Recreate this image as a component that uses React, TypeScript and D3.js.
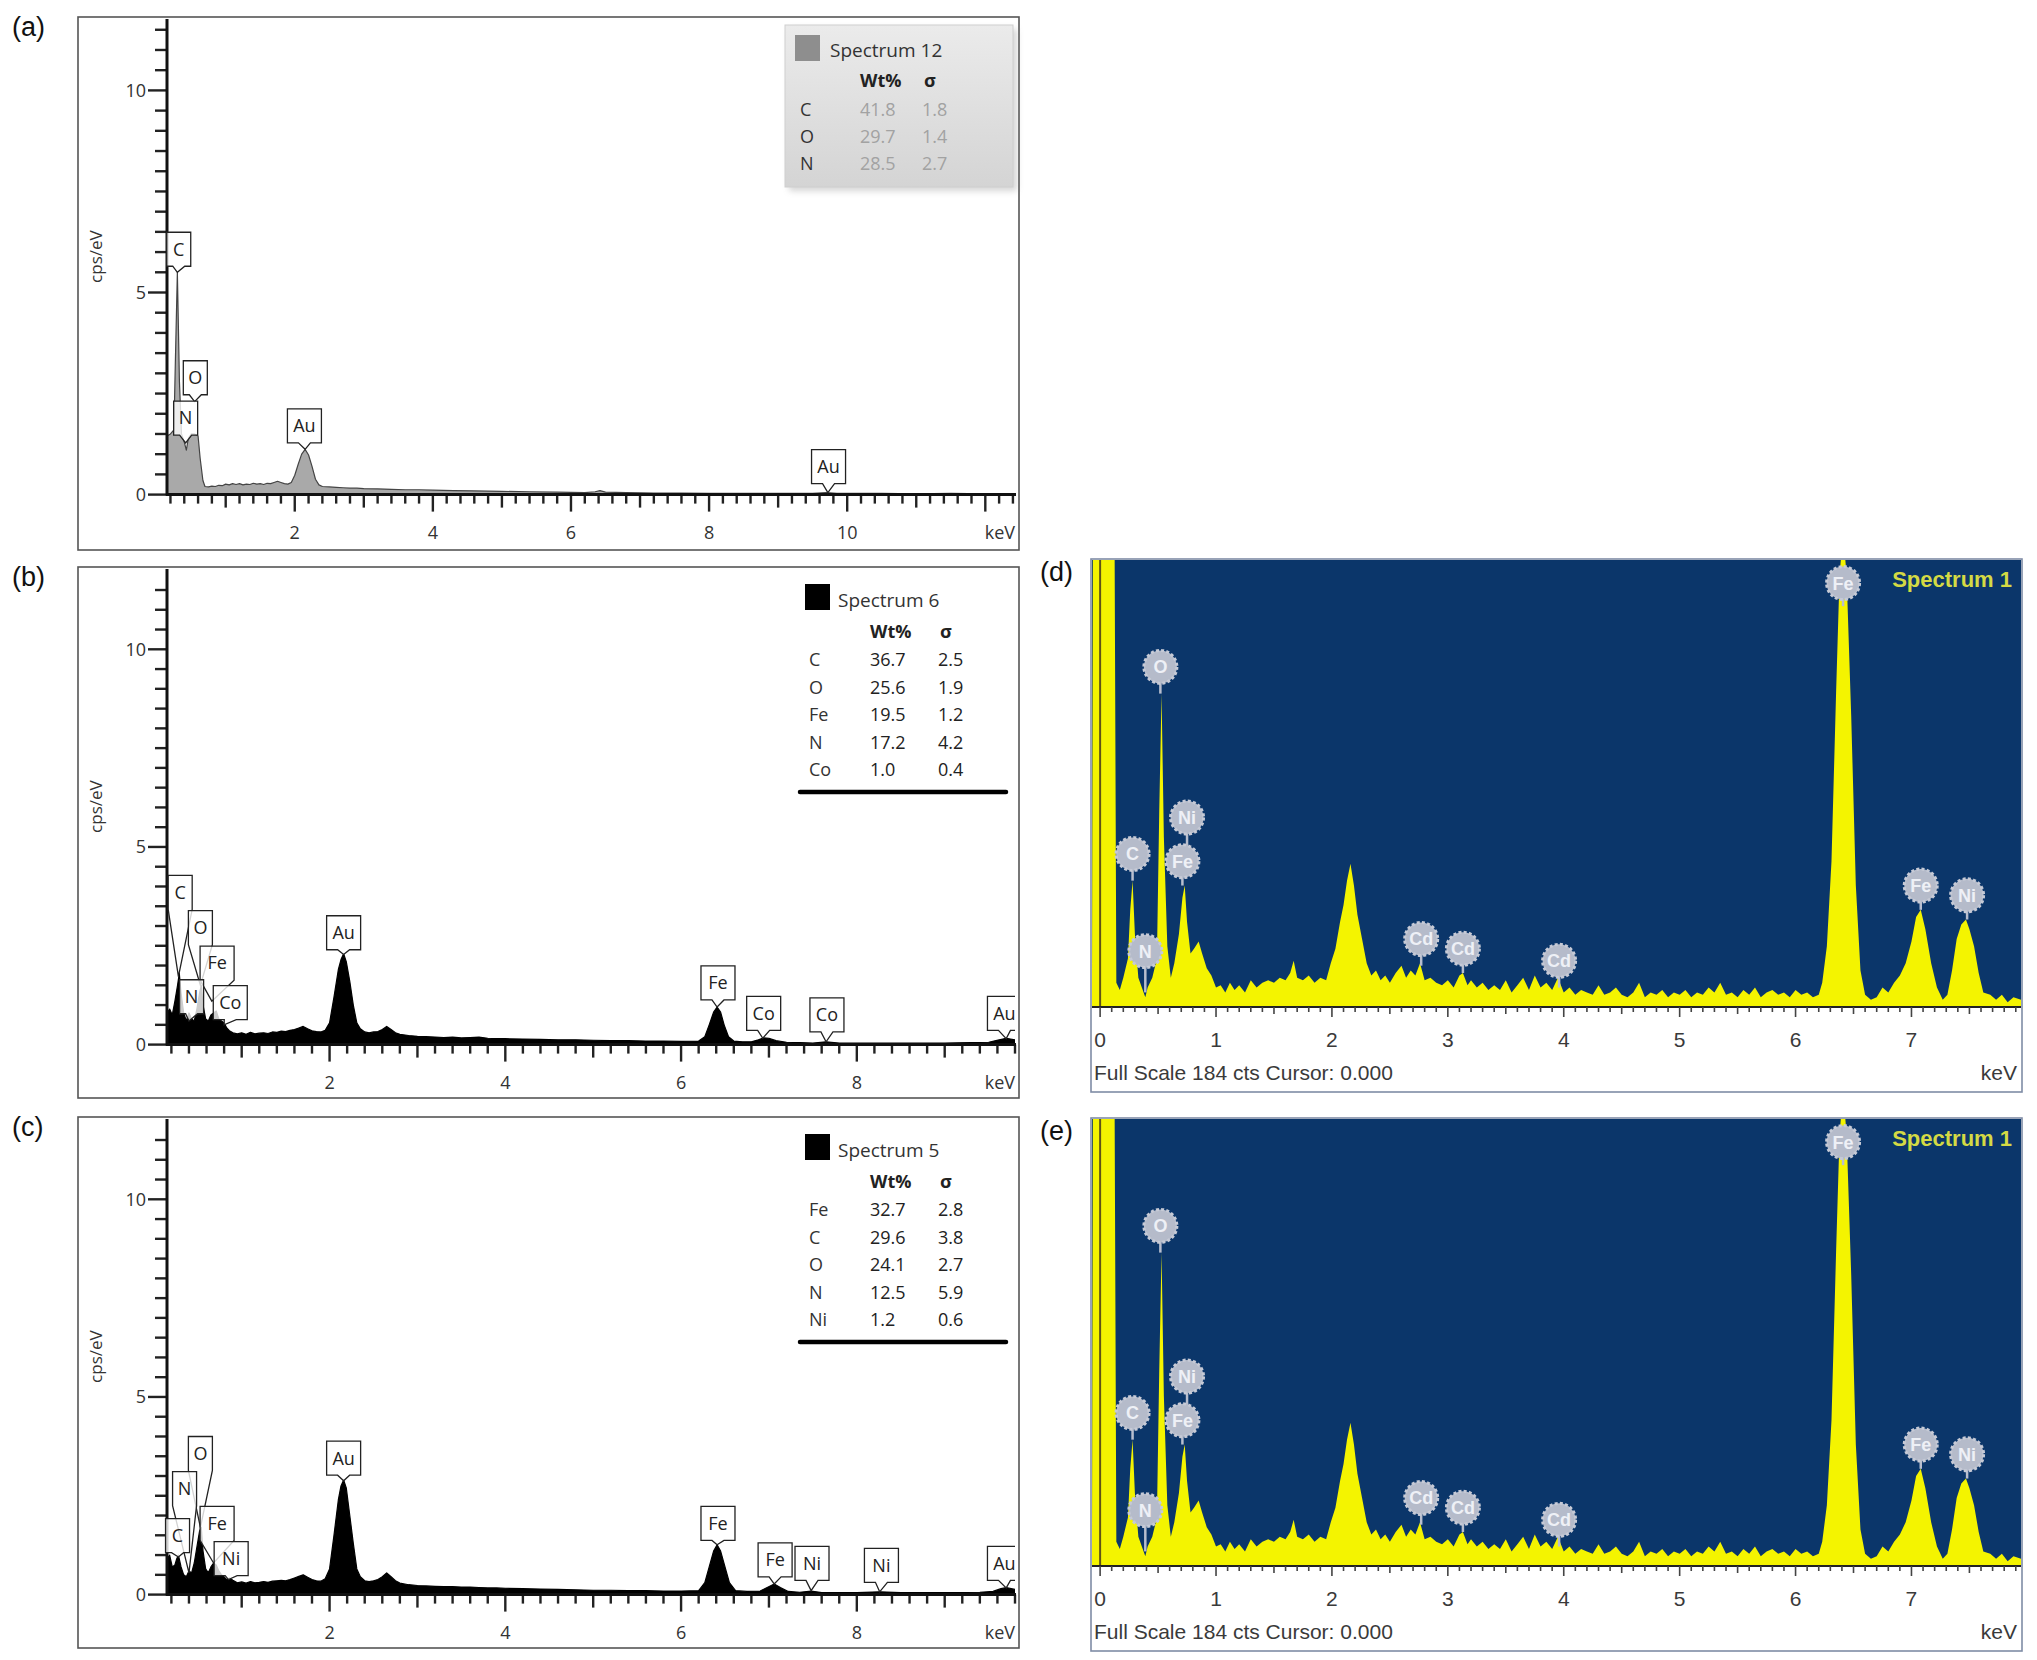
import React, { useEffect, useRef } from 'react'
import * as d3 from 'd3'

const FONT = '"Open Sans", "Noto Sans", sans-serif'
const ARIAL = '"Liberation Sans", Arial, sans-serif'

// ---------- (a) Spectrum 12  (keV, cps/eV) ----------
const specA: [number, number][] = [
  [0.15, 1.45], [0.2, 1.5], [0.25, 1.6], [0.27, 3.2], [0.3, 5.5], [0.33, 2.8], [0.36, 1.5], [0.4, 1.3],
  [0.43, 1.1], [0.46, 1.4], [0.5, 1.5], [0.55, 1.5], [0.6, 1.45], [0.63, 0.9], [0.67, 0.35], [0.7, 0.2],
  [0.75, 0.19], [0.8, 0.21], [0.85, 0.2], [0.9, 0.23], [0.95, 0.22], [1.0, 0.26], [1.05, 0.24], [1.1, 0.27],
  [1.15, 0.25], [1.2, 0.27], [1.25, 0.24], [1.3, 0.26], [1.35, 0.25], [1.4, 0.28], [1.45, 0.26], [1.5, 0.27],
  [1.55, 0.25], [1.6, 0.28], [1.65, 0.27], [1.7, 0.3], [1.75, 0.33], [1.8, 0.3], [1.85, 0.27], [1.9, 0.26],
  [1.95, 0.3], [2.0, 0.48], [2.05, 0.75], [2.1, 1.0], [2.15, 1.12], [2.2, 0.98], [2.25, 0.7], [2.3, 0.38],
  [2.35, 0.24], [2.4, 0.2], [2.5, 0.19], [2.6, 0.18], [2.7, 0.17], [2.8, 0.16], [2.9, 0.16], [3.0, 0.15],
  [3.2, 0.14], [3.4, 0.13], [3.6, 0.12], [3.8, 0.12], [4.0, 0.11], [4.3, 0.1], [4.6, 0.09], [5.0, 0.08],
  [5.4, 0.07], [5.8, 0.06], [6.2, 0.05], [6.35, 0.07], [6.42, 0.1], [6.5, 0.06], [6.8, 0.05], [7.2, 0.04],
  [7.6, 0.04], [8.0, 0.03], [8.5, 0.03], [9.0, 0.03], [9.5, 0.03], [9.7, 0.05], [9.85, 0.03], [10.5, 0.03],
  [11, 0.02], [11.5, 0.03], [12, 0.02], [12.43, 0.02],
]
// element tags: peak (px, py) and box (bx, by = box bottom)
const tagsA = [
  { el: 'C', px: 0.3, py: 5.5, bx: 0.32, by: 5.65 },
  { el: 'O', px: 0.55, py: 2.3, bx: 0.56, by: 2.47 },
  { el: 'N', px: 0.42, py: 1.28, bx: 0.42, by: 1.47 },
  { el: 'Au', px: 2.15, py: 1.12, bx: 2.14, by: 1.28 },
  { el: 'Au', px: 9.72, py: 0.05, bx: 9.73, by: 0.27 },
]
const rowsA = [['C', '41.8', '1.8'], ['O', '29.7', '1.4'], ['N', '28.5', '2.7']]

// ---------- (b) Spectrum 6 ----------
const specB: [number, number][] = [
  [0.15, 0.8], [0.18, 0.9], [0.21, 0.75], [0.24, 1.1], [0.27, 1.5], [0.29, 1.8], [0.31, 1.3], [0.34, 0.8],
  [0.37, 0.6], [0.4, 0.8], [0.43, 0.65], [0.46, 0.6], [0.49, 0.9], [0.52, 1.3], [0.54, 1.5], [0.56, 1.0],
  [0.59, 0.65], [0.62, 0.6], [0.65, 0.75], [0.68, 0.8], [0.71, 0.85], [0.74, 0.65], [0.77, 0.6], [0.8, 0.55],
  [0.83, 0.42], [0.86, 0.35], [0.9, 0.3], [0.95, 0.27], [1.0, 0.3], [1.05, 0.26], [1.1, 0.31], [1.15, 0.27],
  [1.2, 0.29], [1.25, 0.3], [1.3, 0.28], [1.35, 0.32], [1.4, 0.31], [1.45, 0.34], [1.5, 0.33], [1.55, 0.36],
  [1.6, 0.38], [1.65, 0.42], [1.7, 0.46], [1.75, 0.4], [1.8, 0.35], [1.85, 0.33], [1.9, 0.32], [1.95, 0.36],
  [2.0, 0.55], [2.05, 1.2], [2.1, 1.9], [2.13, 2.15], [2.16, 2.3], [2.19, 2.1], [2.23, 1.6], [2.27, 1.0],
  [2.31, 0.55], [2.35, 0.4], [2.4, 0.32], [2.45, 0.3], [2.5, 0.32], [2.55, 0.33], [2.6, 0.38], [2.65, 0.46],
  [2.7, 0.38], [2.75, 0.3], [2.8, 0.26], [2.9, 0.23], [3.0, 0.21], [3.1, 0.2], [3.2, 0.19], [3.3, 0.18],
  [3.4, 0.19], [3.5, 0.17], [3.6, 0.18], [3.7, 0.19], [3.8, 0.16], [3.9, 0.15], [4.0, 0.15], [4.2, 0.14],
  [4.4, 0.13], [4.6, 0.12], [4.8, 0.12], [5.0, 0.11], [5.2, 0.1], [5.4, 0.1], [5.6, 0.09], [5.8, 0.09],
  [6.0, 0.08], [6.2, 0.09], [6.27, 0.2], [6.32, 0.5], [6.37, 0.82], [6.41, 0.95], [6.45, 0.82], [6.49, 0.5],
  [6.54, 0.2], [6.6, 0.09], [6.7, 0.07], [6.8, 0.07], [6.88, 0.12], [6.94, 0.17], [7.0, 0.16], [7.08, 0.1],
  [7.2, 0.06], [7.35, 0.05], [7.5, 0.04], [7.65, 0.07], [7.8, 0.04], [8.0, 0.04], [8.3, 0.04], [8.6, 0.04],
  [9.0, 0.04], [9.3, 0.05], [9.5, 0.06], [9.62, 0.12], [9.7, 0.16], [9.8, 0.12],
]
const tagsB = [
  { el: 'C', px: 0.28, py: 1.72, bx: 0.3, by: 3.42 },
  { el: 'O', px: 0.53, py: 1.5, bx: 0.53, by: 2.53 },
  { el: 'Fe', px: 0.66, py: 1.1, bx: 0.72, by: 1.63 },
  { el: 'N', px: 0.4, py: 0.6, bx: 0.43, by: 0.78 },
  { el: 'Co', px: 0.8, py: 0.5, bx: 0.87, by: 0.63 },
  { el: 'Au', px: 2.16, py: 2.28, bx: 2.16, by: 2.4 },
  { el: 'Fe', px: 6.41, py: 0.95, bx: 6.42, by: 1.13 },
  { el: 'Co', px: 6.93, py: 0.16, bx: 6.94, by: 0.36 },
  { el: 'Co', px: 7.65, py: 0.07, bx: 7.66, by: 0.32 },
  { el: 'Au', px: 9.7, py: 0.15, bx: 9.68, by: 0.36 },
]
const rowsB = [['C', '36.7', '2.5'], ['O', '25.6', '1.9'], ['Fe', '19.5', '1.2'], ['N', '17.2', '4.2'], ['Co', '1.0', '0.4']]

// ---------- (c) Spectrum 5 ----------
const specC: [number, number][] = [
  [0.15, 0.9], [0.18, 1.0], [0.21, 0.7], [0.24, 0.75], [0.26, 0.9], [0.28, 1.0], [0.31, 0.7], [0.34, 0.5],
  [0.37, 0.45], [0.4, 0.6], [0.43, 0.55], [0.46, 0.8], [0.49, 1.2], [0.52, 1.6], [0.54, 1.7], [0.56, 1.1],
  [0.59, 0.65], [0.62, 0.55], [0.65, 0.7], [0.68, 0.8], [0.71, 0.75], [0.74, 0.6], [0.77, 0.5], [0.8, 0.45],
  [0.83, 0.38], [0.86, 0.42], [0.9, 0.36], [0.95, 0.3], [1.0, 0.32], [1.05, 0.29], [1.1, 0.33], [1.15, 0.3],
  [1.2, 0.31], [1.25, 0.33], [1.3, 0.31], [1.35, 0.34], [1.4, 0.35], [1.45, 0.36], [1.5, 0.35], [1.55, 0.38],
  [1.6, 0.42], [1.65, 0.46], [1.7, 0.5], [1.75, 0.44], [1.8, 0.38], [1.85, 0.35], [1.9, 0.34], [1.95, 0.4],
  [2.0, 0.65], [2.05, 1.5], [2.1, 2.4], [2.13, 2.75], [2.16, 2.9], [2.19, 2.7], [2.23, 2.0], [2.27, 1.3],
  [2.31, 0.65], [2.35, 0.45], [2.4, 0.35], [2.45, 0.33], [2.5, 0.35], [2.55, 0.38], [2.6, 0.45], [2.65, 0.55],
  [2.7, 0.45], [2.75, 0.35], [2.8, 0.29], [2.9, 0.25], [3.0, 0.23], [3.1, 0.22], [3.2, 0.21], [3.3, 0.2],
  [3.4, 0.2], [3.5, 0.19], [3.6, 0.19], [3.7, 0.18], [3.8, 0.17], [3.9, 0.17], [4.0, 0.16], [4.2, 0.15],
  [4.4, 0.14], [4.6, 0.13], [4.8, 0.12], [5.0, 0.11], [5.2, 0.11], [5.4, 0.1], [5.6, 0.1], [5.8, 0.09],
  [6.0, 0.09], [6.2, 0.1], [6.27, 0.3], [6.32, 0.7], [6.37, 1.1], [6.41, 1.26], [6.45, 1.1], [6.5, 0.7],
  [6.55, 0.3], [6.62, 0.1], [6.75, 0.08], [6.9, 0.09], [6.98, 0.18], [7.06, 0.27], [7.13, 0.18], [7.22, 0.08],
  [7.35, 0.06], [7.48, 0.09], [7.6, 0.05], [7.8, 0.05], [8.0, 0.05], [8.26, 0.07], [8.5, 0.05], [8.8, 0.05],
  [9.1, 0.05], [9.4, 0.06], [9.55, 0.08], [9.64, 0.15], [9.7, 0.18], [9.8, 0.13],
]
const tagsC = [
  { el: 'O', px: 0.53, py: 1.7, bx: 0.53, by: 3.14 },
  { el: 'N', px: 0.4, py: 0.55, bx: 0.35, by: 2.25 },
  { el: 'C', px: 0.28, py: 0.95, bx: 0.27, by: 1.06 },
  { el: 'Fe', px: 0.68, py: 0.8, bx: 0.72, by: 1.37 },
  { el: 'Ni', px: 0.85, py: 0.38, bx: 0.88, by: 0.48 },
  { el: 'Au', px: 2.16, py: 2.88, bx: 2.16, by: 3.02 },
  { el: 'Fe', px: 6.41, py: 1.26, bx: 6.42, by: 1.37 },
  { el: 'Fe', px: 7.06, py: 0.27, bx: 7.07, by: 0.45 },
  { el: 'Ni', px: 7.48, py: 0.1, bx: 7.49, by: 0.36 },
  { el: 'Ni', px: 8.26, py: 0.07, bx: 8.28, by: 0.31 },
  { el: 'Au', px: 9.7, py: 0.17, bx: 9.68, by: 0.36 },
]
const rowsC = [['Fe', '32.7', '2.8'], ['C', '29.6', '3.8'], ['O', '24.1', '2.7'], ['N', '12.5', '5.9'], ['Ni', '1.2', '0.6']]

// ---------- (d)/(e) Spectrum 1  (keV, counts) ----------
const spectrum1: [number, number][] = [
  [-0.07, 12], [-0.06, 250], [0.12, 250], [0.14, 10], [0.17, 7], [0.2, 12], [0.24, 20], [0.26, 40],
  [0.28, 52], [0.3, 30], [0.33, 12], [0.36, 8], [0.39, 4], [0.41, 8], [0.45, 12], [0.49, 20],
  [0.51, 80], [0.53, 129], [0.55, 70], [0.58, 25], [0.61, 12], [0.64, 18], [0.68, 30], [0.71, 45],
  [0.73, 50], [0.75, 35], [0.78, 22], [0.81, 24], [0.85, 27], [0.88, 22], [0.92, 16], [0.96, 13],
  [1.0, 8], [1.04, 9], [1.08, 6], [1.12, 10], [1.16, 7], [1.2, 9], [1.25, 6], [1.3, 11],
  [1.35, 8], [1.4, 10], [1.45, 11], [1.5, 10], [1.55, 12], [1.6, 11], [1.64, 14], [1.67, 19],
  [1.7, 12], [1.75, 11], [1.8, 13], [1.85, 10], [1.9, 12], [1.95, 11], [1.99, 18], [2.03, 24],
  [2.07, 35], [2.1, 42], [2.13, 52], [2.16, 59], [2.19, 50], [2.22, 38], [2.26, 28], [2.3, 18],
  [2.34, 13], [2.38, 15], [2.42, 11], [2.46, 13], [2.5, 10], [2.55, 14], [2.6, 17], [2.64, 12],
  [2.68, 15], [2.72, 13], [2.76, 18], [2.8, 11], [2.85, 12], [2.9, 10], [2.95, 9], [3.0, 11],
  [3.05, 8], [3.1, 13], [3.13, 14], [3.17, 9], [3.2, 11], [3.25, 8], [3.3, 10], [3.35, 7],
  [3.4, 9], [3.45, 7], [3.5, 11], [3.55, 6], [3.6, 9], [3.65, 12], [3.7, 7], [3.75, 13],
  [3.8, 8], [3.85, 10], [3.9, 7], [3.95, 12], [4.0, 6], [4.05, 8], [4.1, 5], [4.15, 7],
  [4.2, 6], [4.25, 5], [4.3, 9], [4.35, 5], [4.4, 6], [4.45, 8], [4.5, 5], [4.55, 4],
  [4.6, 6], [4.65, 10], [4.7, 4], [4.75, 6], [4.8, 5], [4.85, 7], [4.9, 4], [4.95, 6],
  [5.0, 5], [5.05, 7], [5.1, 4], [5.15, 6], [5.2, 5], [5.25, 8], [5.3, 6], [5.35, 10],
  [5.4, 5], [5.45, 6], [5.5, 4], [5.55, 7], [5.6, 5], [5.65, 8], [5.7, 4], [5.75, 6],
  [5.8, 7], [5.85, 5], [5.9, 6], [5.95, 4], [6.0, 7], [6.05, 5], [6.1, 6], [6.15, 4],
  [6.2, 5], [6.23, 10], [6.27, 25], [6.31, 60], [6.35, 130], [6.38, 178], [6.41, 195], [6.44, 178],
  [6.48, 120], [6.52, 50], [6.56, 15], [6.6, 5], [6.65, 3], [6.7, 4], [6.75, 8], [6.8, 6],
  [6.85, 10], [6.9, 13], [6.95, 18], [7.0, 27], [7.04, 37], [7.08, 40], [7.12, 32], [7.17, 18],
  [7.22, 8], [7.27, 3], [7.31, 5], [7.35, 15], [7.39, 28], [7.43, 34], [7.47, 36], [7.5, 32],
  [7.54, 25], [7.58, 14], [7.62, 6], [7.68, 5], [7.73, 3], [7.78, 5], [7.83, 2], [7.88, 4], [7.945, 3],
]
// badge centre (kev, cts) and the count where its stem ends
const badges1 = [
  { el: 'O', kev: 0.52, cts: 140, end: 129 },
  { el: 'Ni', kev: 0.75, cts: 78, end: 62 },
  { el: 'C', kev: 0.28, cts: 63, end: 52 },
  { el: 'Fe', kev: 0.71, cts: 60, end: 50 },
  { el: 'N', kev: 0.39, cts: 23, end: 6 },
  { el: 'Cd', kev: 2.77, cts: 28, end: 17 },
  { el: 'Cd', kev: 3.13, cts: 24, end: 14 },
  { el: 'Cd', kev: 3.96, cts: 19, end: 8 },
  { el: 'Fe', kev: 6.41, cts: 174.5, end: 165 },
  { el: 'Fe', kev: 7.08, cts: 50, end: 40 },
  { el: 'Ni', kev: 7.48, cts: 46, end: 36 },
]
const ticks1 = [0, 1, 2, 3, 4, 5, 6, 7]

function drawEds(svg, o) {
  const { id, frame, xMax, y0, yPer, data, fill, stroke, tags, title, rows, boxed, xLabels, label } = o
  const [fx0, fy0, fx1, fy1] = frame
  const g = svg.append('g')

  g.append('rect').attr('x', fx0).attr('y', fy0).attr('width', fx1 - fx0).attr('height', fy1 - fy0)
    .attr('fill', '#fff').attr('stroke', '#555').attr('stroke-width', 1.6)

  const x = d3.scaleLinear().domain([0.15, xMax]).range([167, 1015])
  const y = d3.scaleLinear().domain([0, 10]).range([y0, y0 - 10 * yPer])
  const axisX = x(0.15)

  svg.append('clipPath').attr('id', id + 'clip').append('rect')
    .attr('x', axisX).attr('y', fy0 + 1).attr('width', 1015 - axisX).attr('height', y0 - fy0 - 1)
  svg.append('clipPath').attr('id', id + 'tagclip').append('rect')
    .attr('x', fx0).attr('y', fy0 + 1).attr('width', 1015 - fx0).attr('height', y0 - fy0 - 1)

  // spectrum
  const area = d3.area<[number, number]>().x(d => x(d[0])).y0(y(0)).y1(d => y(d[1]))
  g.append('path').datum(data).attr('d', area).attr('fill', fill).attr('stroke', stroke)
    .attr('stroke-width', 1.2).attr('stroke-linejoin', 'round').attr('clip-path', `url(#${id}clip)`)

  // y axis
  const yTicks = d3.range(0, 24).map(i => i / 2)
  g.selectAll('.yt').data(yTicks).enter().append('line')
    .attr('x1', d => axisX - (d % 5 === 0 ? 19 : 12)).attr('x2', axisX)
    .attr('y1', d => y(d)).attr('y2', d => y(d)).attr('stroke', '#222').attr('stroke-width', 2.4)
  g.selectAll('.yl').data([0, 5, 10]).enter().append('text')
    .attr('x', axisX - 21).attr('y', d => y(d)).attr('dy', '0.35em').attr('text-anchor', 'end')
    .attr('font-family', FONT).attr('font-size', 18).attr('fill', '#333').text(d => d)
  g.append('line').attr('x1', axisX).attr('x2', axisX).attr('y1', y0 + 1).attr('y2', fy0 + 2)
    .attr('stroke', '#111').attr('stroke-width', 3)
  g.append('text').attr('transform', `translate(${fx0 + 24},${y0 - 238}) rotate(-90)`)
    .attr('text-anchor', 'middle').attr('font-family', FONT).attr('font-size', 17).attr('fill', '#333').text('cps/eV')

  // x axis
  const xTicks = d3.range(1, Math.floor(xMax * 5) + 1).map(i => i / 5)
  g.selectAll('.xt').data(xTicks).enter().append('line')
    .attr('x1', d => x(d)).attr('x2', d => x(d)).attr('y1', y0)
    .attr('y2', d => {
      const k = Math.round(d * 5)
      return y0 + (k % 10 === 0 ? 17 : k % 5 === 0 ? 13 : 9)
    })
    .attr('stroke', '#222').attr('stroke-width', 2.4)
  g.append('line').attr('x1', axisX - 1).attr('x2', 1016).attr('y1', y0).attr('y2', y0)
    .attr('stroke', '#111').attr('stroke-width', 3)
  g.selectAll('.xl').data(xLabels).enter().append('text')
    .attr('x', d => x(d)).attr('y', y0 + 38).attr('dy', '0.35em').attr('text-anchor', 'middle')
    .attr('font-family', FONT).attr('font-size', 18).attr('fill', '#333').text(d => d)
  g.append('text').attr('x', 1015).attr('y', y0 + 38).attr('dy', '0.35em').attr('text-anchor', 'end')
    .attr('font-family', FONT).attr('font-size', 18).attr('fill', '#333').text('keV')

  // element tags
  const tg = g.append('g').attr('clip-path', `url(#${id}tagclip)`)
  tags.forEach(t => {
    const cx = x(t.bx), by = y(t.by), w = t.el.length > 1 ? 34 : 24, h = 34
    const tx = x(t.px), ty = y(t.py)
    const far = ty - by > 16 || Math.abs(tx - cx) > 8
    const tw = far ? w / 2 : 6
    const p = d3.path()
    p.moveTo(cx - w / 2, by - h); p.lineTo(cx + w / 2, by - h); p.lineTo(cx + w / 2, by)
    p.lineTo(cx + tw, by); p.lineTo(tx, ty); p.lineTo(cx - tw, by); p.lineTo(cx - w / 2, by); p.closePath()
    tg.append('path').attr('d', p.toString()).attr('fill', '#fff').attr('fill-opacity', 0.8)
      .attr('stroke', '#222').attr('stroke-width', 1.3).attr('stroke-linejoin', 'miter')
    tg.append('text').attr('x', cx).attr('y', by - h / 2).attr('dy', '0.35em').attr('text-anchor', 'middle')
      .attr('font-family', FONT).attr('font-size', 18).attr('fill', '#222').text(t.el)
  })

  // legend table
  const lg = g.append('g')
  if (boxed) {
    lg.append('rect').attr('x', 789).attr('y', fy0 + 12).attr('width', 228).attr('height', 162)
      .attr('fill', '#888').attr('opacity', 0.35).attr('filter', 'url(#blur)')
    lg.append('rect').attr('x', 785).attr('y', fy0 + 8).attr('width', 228).attr('height', 162)
      .attr('fill', 'url(#legGrad)').attr('stroke', '#cfcfcf')
  }
  const L = boxed
    ? { sw: 795, sy: 18, tx: 830, ty: 33, hx: 860, sx: 922, hy: 64, r0: 93, dr: 26.7, lx: 800, valCol: '#a2a2a2', swatch: '#8e8e8e' }
    : { sw: 805, sy: 17, tx: 838, ty: 33, hx: 870, sx: 938, hy: 65, r0: 93, dr: 27.5, lx: 809, valCol: '#222', swatch: '#000' }
  lg.append('rect').attr('x', L.sw).attr('y', fy0 + L.sy).attr('width', 25).attr('height', 26).attr('fill', L.swatch)
  const txt = (xx, yy, s, opts: any = {}) => lg.append('text').attr('x', xx).attr('y', yy).attr('dy', '0.35em')
    .attr('font-family', FONT).attr('font-size', opts.size || 18).attr('font-weight', opts.bold ? 700 : 400)
    .attr('fill', opts.fill || '#222').text(s)
  txt(L.tx, fy0 + L.ty, title, { size: 19, fill: '#333' })
  txt(L.hx, fy0 + L.hy, 'Wt%', { bold: true })
  txt(L.sx + 2, fy0 + L.hy, 'σ', { bold: true })
  rows.forEach((r, i) => {
    const yy = fy0 + L.r0 + i * L.dr
    txt(L.lx, yy, r[0], { fill: '#333' })
    txt(L.hx, yy, r[1], { fill: L.valCol })
    txt(L.sx, yy, r[2], { fill: L.valCol })
  })
  if (!boxed) {
    lg.append('line').attr('x1', 800).attr('x2', 1006).attr('y1', fy0 + 225).attr('y2', fy0 + 225)
      .attr('stroke', '#000').attr('stroke-width', 4.5).attr('stroke-linecap', 'round')
  }

  svg.append('text').attr('x', 12).attr('y', fy0 + 19).attr('font-family', ARIAL).attr('font-size', 27)
    .attr('fill', '#111').text(label)
}

function drawSpectrum1(svg, id, top, label) {
  const g = svg.append('g')
  const axisY = top + 448
  const x = d3.scaleLinear().domain([-0.07, 7.945]).range([1092, 2021])
  const y = d3.scaleLinear().domain([0, 184]).range([axisY, top + 1])

  g.append('rect').attr('x', 1091).attr('y', top).attr('width', 931).attr('height', 533)
    .attr('fill', '#fff').attr('stroke', '#7f8ca6').attr('stroke-width', 1.6)
  g.append('rect').attr('x', 1092).attr('y', top + 1).attr('width', 929).attr('height', axisY - top - 1).attr('fill', '#0b366a')

  svg.append('clipPath').attr('id', id + 'clip').append('rect')
    .attr('x', 1092).attr('y', top + 1).attr('width', 929).attr('height', axisY - top - 1)
  const area = d3.area<[number, number]>().x(d => x(d[0])).y0(axisY).y1(d => y(d[1]))
  g.append('path').datum(spectrum1).attr('d', area).attr('fill', '#f4f400').attr('clip-path', `url(#${id}clip)`)
  // cursor at 0.000 keV
  g.append('line').attr('x1', x(0)).attr('x2', x(0)).attr('y1', top + 1).attr('y2', axisY)
    .attr('stroke', '#5e5418').attr('stroke-width', 2)

  // axis & ticks
  g.append('line').attr('x1', 1092).attr('x2', 2021).attr('y1', axisY).attr('y2', axisY).attr('stroke', '#222').attr('stroke-width', 2.2)
  const ticks = d3.range(0, 80).map(i => i / 10)
  g.selectAll('.t').data(ticks).enter().append('line')
    .attr('x1', d => x(d)).attr('x2', d => x(d)).attr('y1', axisY)
    .attr('y2', d => {
      const k = Math.round(d * 10)
      return axisY + (k % 10 === 0 ? 10 : k % 5 === 0 ? 7 : 5)
    })
    .attr('stroke', '#444').attr('stroke-width', 1.6)
  g.selectAll('.tl').data(ticks1).enter().append('text')
    .attr('x', d => x(d)).attr('y', axisY + 33).attr('dy', '0.35em').attr('text-anchor', 'middle')
    .attr('font-family', ARIAL).attr('font-size', 21).attr('fill', '#3a3a3a').text(d => d)
  g.append('text').attr('x', 1094).attr('y', axisY + 66).attr('dy', '0.35em')
    .attr('font-family', ARIAL).attr('font-size', 21).attr('fill', '#3a3a3a').text('Full Scale 184 cts Cursor: 0.000')
  g.append('text').attr('x', 2017).attr('y', axisY + 66).attr('dy', '0.35em').attr('text-anchor', 'end')
    .attr('font-family', ARIAL).attr('font-size', 21).attr('fill', '#3a3a3a').text('keV')

  g.append('text').attr('x', 2012).attr('y', top + 20).attr('dy', '0.35em').attr('text-anchor', 'end')
    .attr('font-family', ARIAL).attr('font-size', 22).attr('font-weight', 700).attr('fill', '#d4da44').text('Spectrum 1')

  // element badges
  badges1.forEach(b => {
    const bx = x(b.kev), byy = y(b.cts)
    g.append('line').attr('x1', bx).attr('x2', bx).attr('y1', byy + 15).attr('y2', y(b.end))
      .attr('stroke', '#b8bece').attr('stroke-width', 2.5)
    g.append('circle').attr('cx', bx).attr('cy', byy).attr('r', 16.5).attr('fill', '#b5bbca')
      .attr('stroke', '#c6cad6').attr('stroke-width', 3).attr('stroke-dasharray', '3 2.2')
    g.append('text').attr('x', bx).attr('y', byy).attr('dy', '0.36em').attr('text-anchor', 'middle')
      .attr('font-family', ARIAL).attr('font-size', 18).attr('font-weight', 700).attr('fill', '#eef0f6').text(b.el)
  })

  svg.append('text').attr('x', 1040).attr('y', top + 22).attr('font-family', ARIAL).attr('font-size', 27)
    .attr('fill', '#111').text(label)
}

export default function App() {
  const ref = useRef<SVGSVGElement>(null)

  useEffect(() => {
    const svg = d3.select(ref.current)
    svg.selectAll('*').remove()

    const defs = svg.append('defs')
    const grad = defs.append('linearGradient').attr('id', 'legGrad').attr('x1', 0).attr('y1', 0).attr('x2', 0).attr('y2', 1)
    grad.append('stop').attr('offset', '0%').attr('stop-color', '#ebebeb')
    grad.append('stop').attr('offset', '100%').attr('stop-color', '#d4d4d4')
    defs.append('filter').attr('id', 'blur').append('feGaussianBlur').attr('stdDeviation', 3)

    drawEds(svg, {
      id: 'a', frame: [78, 17, 1019, 550], xMax: 12.43, y0: 494.6, yPer: 40.42, data: specA,
      fill: '#a9a9a9', stroke: '#444', tags: tagsA, title: 'Spectrum 12', rows: rowsA, boxed: true,
      xLabels: [2, 4, 6, 8, 10], label: '(a)',
    })
    drawEds(svg, {
      id: 'b', frame: [78, 567, 1019, 1098], xMax: 9.8, y0: 1044.6, yPer: 39.53, data: specB,
      fill: '#000', stroke: '#000', tags: tagsB, title: 'Spectrum 6', rows: rowsB, boxed: false,
      xLabels: [2, 4, 6, 8], label: '(b)',
    })
    drawEds(svg, {
      id: 'c', frame: [78, 1117, 1019, 1648], xMax: 9.8, y0: 1594.6, yPer: 39.53, data: specC,
      fill: '#000', stroke: '#000', tags: tagsC, title: 'Spectrum 5', rows: rowsC, boxed: false,
      xLabels: [2, 4, 6, 8], label: '(c)',
    })
    drawSpectrum1(svg, 'd', 559, '(d)')
    drawSpectrum1(svg, 'e', 1118, '(e)')
  }, [])

  return (
    <svg ref={ref} width={2037} height={1660}
      style={{ position: 'absolute', left: 0, top: 0, background: '#fff' }} />
  )
}
